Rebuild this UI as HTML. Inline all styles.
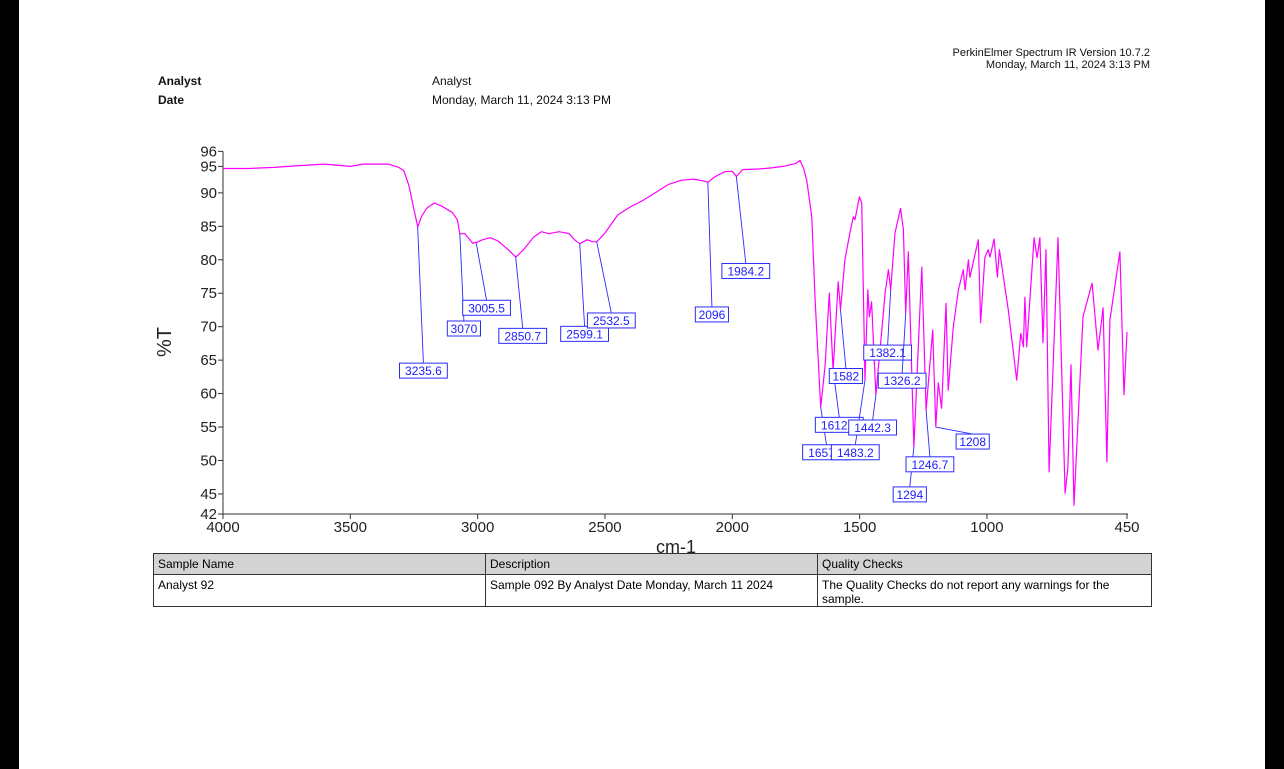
<!DOCTYPE html>
<html><head><meta charset="utf-8">
<style>
html,body{margin:0;padding:0;width:1284px;height:769px;background:#000;overflow:hidden;font-family:"Liberation Sans",sans-serif;}
#page{position:absolute;left:19px;top:0;width:1246px;height:769px;background:#fff;}
.t{position:absolute;white-space:nowrap;color:#111;}
table{position:absolute;left:153px;top:553px;width:999px;border-collapse:collapse;font-size:12px;}
td{border:1px solid #333;padding:3px 4px 0 4px;vertical-align:top;}
</style></head><body>
<div id="page"></div>
<div class="t" style="right:134px;top:47px;font-size:11px;text-align:right;line-height:12px">PerkinElmer Spectrum IR Version 10.7.2<br>Monday, March 11, 2024 3:13 PM</div>
<div class="t" style="left:158px;top:74px;font-size:12px;font-weight:bold">Analyst</div>
<div class="t" style="left:158px;top:93px;font-size:12px;font-weight:bold">Date</div>
<div class="t" style="left:432px;top:74px;font-size:12px">Analyst</div>
<div class="t" style="left:432px;top:93px;font-size:12px">Monday, March 11, 2024 3:13 PM</div>
<svg id="chart" width="1284" height="769" style="position:absolute;left:0;top:0" font-family="Liberation Sans, sans-serif"></svg>
<table>
<tr style="background:#d3d3d3;height:21px"><td style="width:323px">Sample Name</td><td style="width:323px">Description</td><td>Quality Checks</td></tr>
<tr style="height:31px"><td>Analyst 92</td><td>Sample 092 By Analyst Date Monday, March 11 2024</td><td style="line-height:14px">The Quality Checks do not report any warnings for the sample.</td></tr>
</table>
<script>
const wavenumbers=[4000,3900,3800,3700,3600,3500,3450,3350,3310,3290,3270,3250,3235,3220,3200,3170,3140,3100,3080,3070,3050,3020,3005,2980,2950,2920,2880,2850,2820,2780,2750,2720,2680,2640,2620,2599,2570,2550,2532,2500,2450,2400,2350,2300,2250,2200,2150,2110,2096,2070,2030,2000,1984,1960,1900,1850,1800,1750,1734,1720,
1708,1688,1675,1653,1636,1619,1604,1584,1575,1558,1538,1525,1518,1501,1492,1479,1468,1462,1453,1436,1420,1400,1387,1378,1361,1339,1328,1319,1309,1287,1256,1239,1213,1201,1191,1178,1161,1152,1132,1112,1093,1086,1073,1067,1034,1025,1008,995,988,972,959,951,916,883,867,857,851,844,815,803,792,780,768,756,721,693,682,670,658,623,587,564,544,529,517,478,462,450];
const transmittance=[94.6,94.6,94.8,95.05,95.15,95.0,95.15,95.15,94.8,94.2,91.4,87.5,84.9,86.5,87.7,88.5,88.0,87.1,86.0,83.9,83.9,82.5,82.6,83.0,83.3,82.8,81.5,80.4,81.5,83.4,84.2,83.9,84.2,83.9,83.0,82.4,83.0,82.7,82.7,84.0,86.7,87.9,88.9,90.1,91.6,92.4,92.6,92.2,92.0,93.0,94.0,94.1,93.1,94.4,94.5,94.7,95.0,95.2,95.4,94.6,
92.4,86.4,74,58.0,64,75.0,63.5,76.7,72.5,80,84,86.4,86,89.4,88.5,62.0,75.5,71.5,73.7,59.8,66.5,75,78.5,75.5,84,87.7,84.5,72.0,81.2,52.0,78.9,57.5,69.5,55.0,61.6,57.8,73.5,60.5,70.0,75.5,78.5,75.5,80.0,77.4,83.0,70.6,80.4,81.5,80.4,83.1,77.4,81.5,72.5,62.0,69.0,67.0,74.4,67.0,83.3,80.3,83.3,67.6,81.5,48.3,83.3,45.1,49.0,64.3,43.3,71.5,76.5,66.5,72.8,49.8,71.0,81.2,59.8,69.2];
const yTicks=[96,95,90,85,80,75,70,65,60,55,50,45,42];
const xTicks=[4000,3500,3000,2500,2000,1500,1000,450];
const peakLabels=["3235.6","3070","3005.5","2850.7","2599.1","2532.5","2096","1984.2","1657.3","1612.2","1582","1483.2","1442.3","1382.1","1326.2","1294","1246.7","1208"];
const peakWn=[3235.6,3070,3005.5,2850.7,2599.1,2532.5,2096,1984.2,1653,1604,1575,1479,1436,1378,1319,1287,1239,1201];
const peakT=[84.9,83.9,82.5,80.4,82.4,82.7,92.0,93.1,58.0,63.5,72.5,62.0,59.8,75.5,72.0,52.0,57.5,55.0];
const labelWn=[3213,3054,2965,2823,2580,2475,2080,1947,1630,1580,1554,1517,1449,1390,1333,1303,1224,1056];
const labelT=[64.4,70.7,73.8,69.6,69.9,71.9,72.8,79.3,52.2,56.3,63.6,52.2,55.9,67.1,62.9,45.9,50.4,53.8];
const svg=document.getElementById('chart');
const NS='http://www.w3.org/2000/svg';
const x=w=>223+(4000-w)*0.25465;
const yLin=t=>514-(t-42)*6.69;
// instrument's axis is compressed above 90
const y=v=>v<=90?yLin(v):(v<=95?yLin(90)-(v-90)*5.3:yLin(90)-26.5-(v-95)*15);
function mk(tag,attrs,parent){const e=document.createElementNS(NS,tag);for(const k in attrs)e.setAttribute(k,attrs[k]);(parent||svg).appendChild(e);return e;}
let ax=mk('line',{x1:223,y1:y(96),x2:223,y2:514,stroke:'#333','stroke-width':1});


let bx=mk('line',{x1:223,y1:514,x2:1128,y2:514,stroke:'#333','stroke-width':1});


yTicks.forEach(v=>{
  const p=y(v);
  mk('line',{x1:218,y1:p,x2:223,y2:p,stroke:'#333'});
  let t=mk('text',{x:217,y:p+5,'text-anchor':'end','font-size':15,fill:'#222'});t.textContent=v;
  
  
});
xTicks.forEach(v=>{
  mk('line',{x1:x(v),y1:514,x2:x(v),y2:519,stroke:'#333'});
  let t=mk('text',{x:x(v),y:532,'text-anchor':'middle','font-size':15,fill:'#222'});t.textContent=v;
  
  
});
let yt=mk('text',{x:0,y:0,transform:'translate(171,342) rotate(-90)','text-anchor':'middle','font-size':20,fill:'#222'});yt.textContent='%T';


let xt=mk('text',{x:676,y:553,'text-anchor':'middle','font-size':18,fill:'#222'});xt.textContent='cm-1';


let pts=wavenumbers.map((w,i)=>x(w).toFixed(1)+','+y(transmittance[i]).toFixed(1)).join(' ');
let pl=mk('polyline',{points:pts,fill:'none',stroke:'#ff00ff','stroke-width':1.2,'stroke-linejoin':'round'});


peakLabels.forEach((lab,i)=>{
  const lx=x(labelWn[i]),ly=y(labelT[i]);
  const g=mk('g',{});
  
  
  const w=lab.length*7.3+4;
  mk('line',{x1:x(peakWn[i]),y1:y(peakT[i]),x2:lx,y2:ly-1,stroke:'#2b2bff','stroke-width':0.9},g);
  mk('rect',{x:lx-w/2,y:ly-1,width:w,height:15,fill:'#fff',stroke:'#2b2bff','stroke-width':1},g);
  const t=mk('text',{x:lx,y:ly+11,'text-anchor':'middle','font-size':12,fill:'#2020ff'},g);t.textContent=lab;
});
</script>
</body></html>
